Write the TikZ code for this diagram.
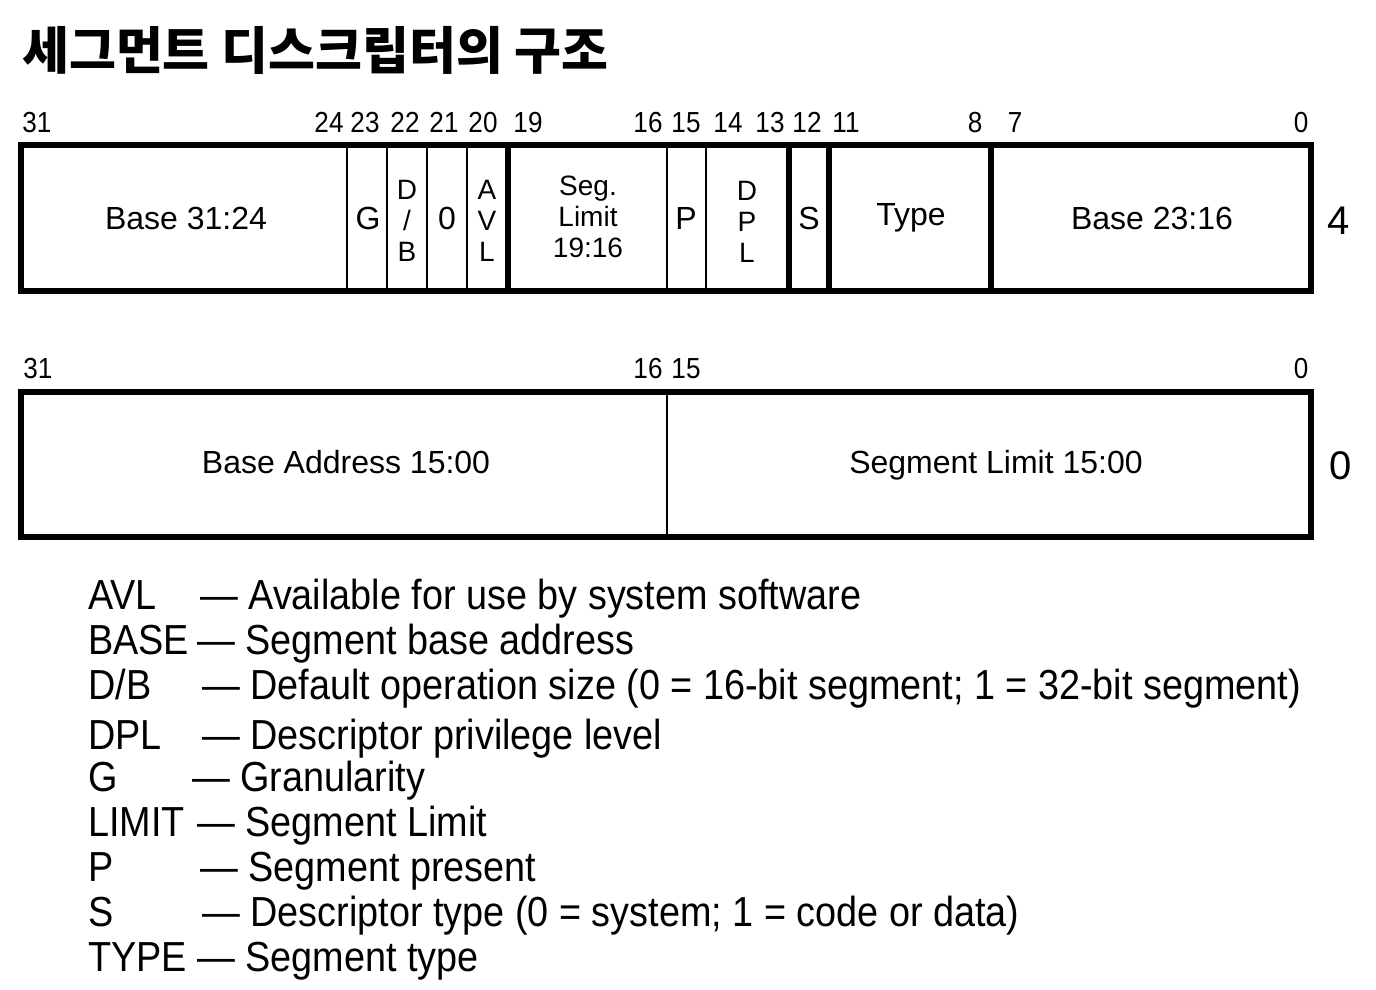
\documentclass[tikz,border=0pt]{standalone}
\usepackage{fontspec}
\setmainfont{Liberation Sans}
\newfontfamily\narrowfont[FakeStretch=0.9]{Liberation Sans}
\newfontfamily\krfont{Noto Sans CJK KR}
\begin{document}
\begin{tikzpicture}[x=1pt,y=-1pt,
  thickline/.style={line width=5.5pt},
  thinline/.style={line width=2pt},
  fld/.style={font=\fontsize{32}{32}\selectfont, inner sep=0pt, align=center},
  vfld/.style={font=\fontsize{28}{31}\selectfont, inner sep=0pt, align=center},
  bitnum/.style={font=\narrowfont\fontsize{29}{29}\selectfont, inner sep=0pt, anchor=base},
  rownum/.style={font=\fontsize{40}{40}\selectfont, inner sep=0pt},
  abbr/.style={font=\narrowfont\fontsize{42}{42}\selectfont, inner sep=0pt, anchor=base west},
  desc/.style={font=\narrowfont\fontsize{42}{42}\selectfont, inner sep=0pt, anchor=base west}]
\useasboundingbox (0,0) rectangle (1376,990);

% title
\node[anchor=base west, inner sep=0pt, font=\krfont\bfseries\fontsize{51}{51}\selectfont] (title) at (22,70) {세그먼트 디스크립터의 구조};

% ---- upper doubleword (offset 4)
\foreach \n/\x in {31/37,24/329,23/365,22/405,21/444,20/483,19/528,16/648,15/686,14/728,13/770,12/807,11/846,8/975,7/1015,0/1301}
  \node[bitnum] (ta\n) at (\x,132) {\n};

\draw[thickline] (21,145) rectangle (1311,291);
\foreach \x in {347,387,427,467,667,706}
  \draw[thinline] (\x,145) -- (\x,291);
\foreach \x in {508,789,829,991}
  \draw[thickline] (\x,145) -- (\x,291);

\node[fld] (base3124) at (186,218) {Base 31:24};
\node[fld] (g) at (368,218) {G};
\node[vfld] (db) at (407,221) {D\\/\\B};
\node[fld] (zero) at (447,218) {0};
\node[vfld] (avl) at (487,221) {A\\V\\L};
\node[vfld] (seglim) at (588,217) {Seg.\\Limit\\19:16};
\node[fld] (p) at (686,218) {P};
\node[vfld] (dpl) at (747,222) {D\\P\\L};
\node[fld] (s) at (809,218) {S};
\node[fld] (type) at (911,218) {Type};
\node[fld] (base2316) at (1152,218) {Base 23:16};
\node[rownum] (off4) at (1339,221) {4};

% ---- lower doubleword (offset 0)
\foreach \n/\x in {31/38,16/648,15/686,0/1301}
  \node[bitnum] (tb\n) at (\x,378) {\n};

\draw[thickline] (21,392) rectangle (1311,537);
\draw[thinline] (667,392) -- (667,537);

\node[fld] (baseaddr) at (346,462) {Base Address 15:00};
\node[fld] (seglimit) at (996,465) {Segment Limit 15:00};
\node[rownum] (off0) at (1341,466) {0};

% ---- legend
\foreach \i/\a/\yy/\dx/\t in {
  1/AVL/609/200/{Available for use by system software},
  2/BASE/654/197/{Segment base address},
  3/D\slash B/699/202/{Default operation size (0 = 16-bit segment; 1 = 32-bit segment)},
  4/DPL/749/202/{Descriptor privilege level},
  5/G/791/192/{Granularity},
  6/LIMIT/836/197/{Segment Limit},
  7/P/881/200/{Segment present},
  8/S/926/202/{Descriptor type (0 = system; 1 = code or data)},
  9/TYPE/971/197/{Segment type}}
{
  \node[abbr] (ab\i) at (88,\yy) {\a};
  \node[desc] (de\i) at (\dx,\yy) {— \t};
}
\end{tikzpicture}
\end{document}
